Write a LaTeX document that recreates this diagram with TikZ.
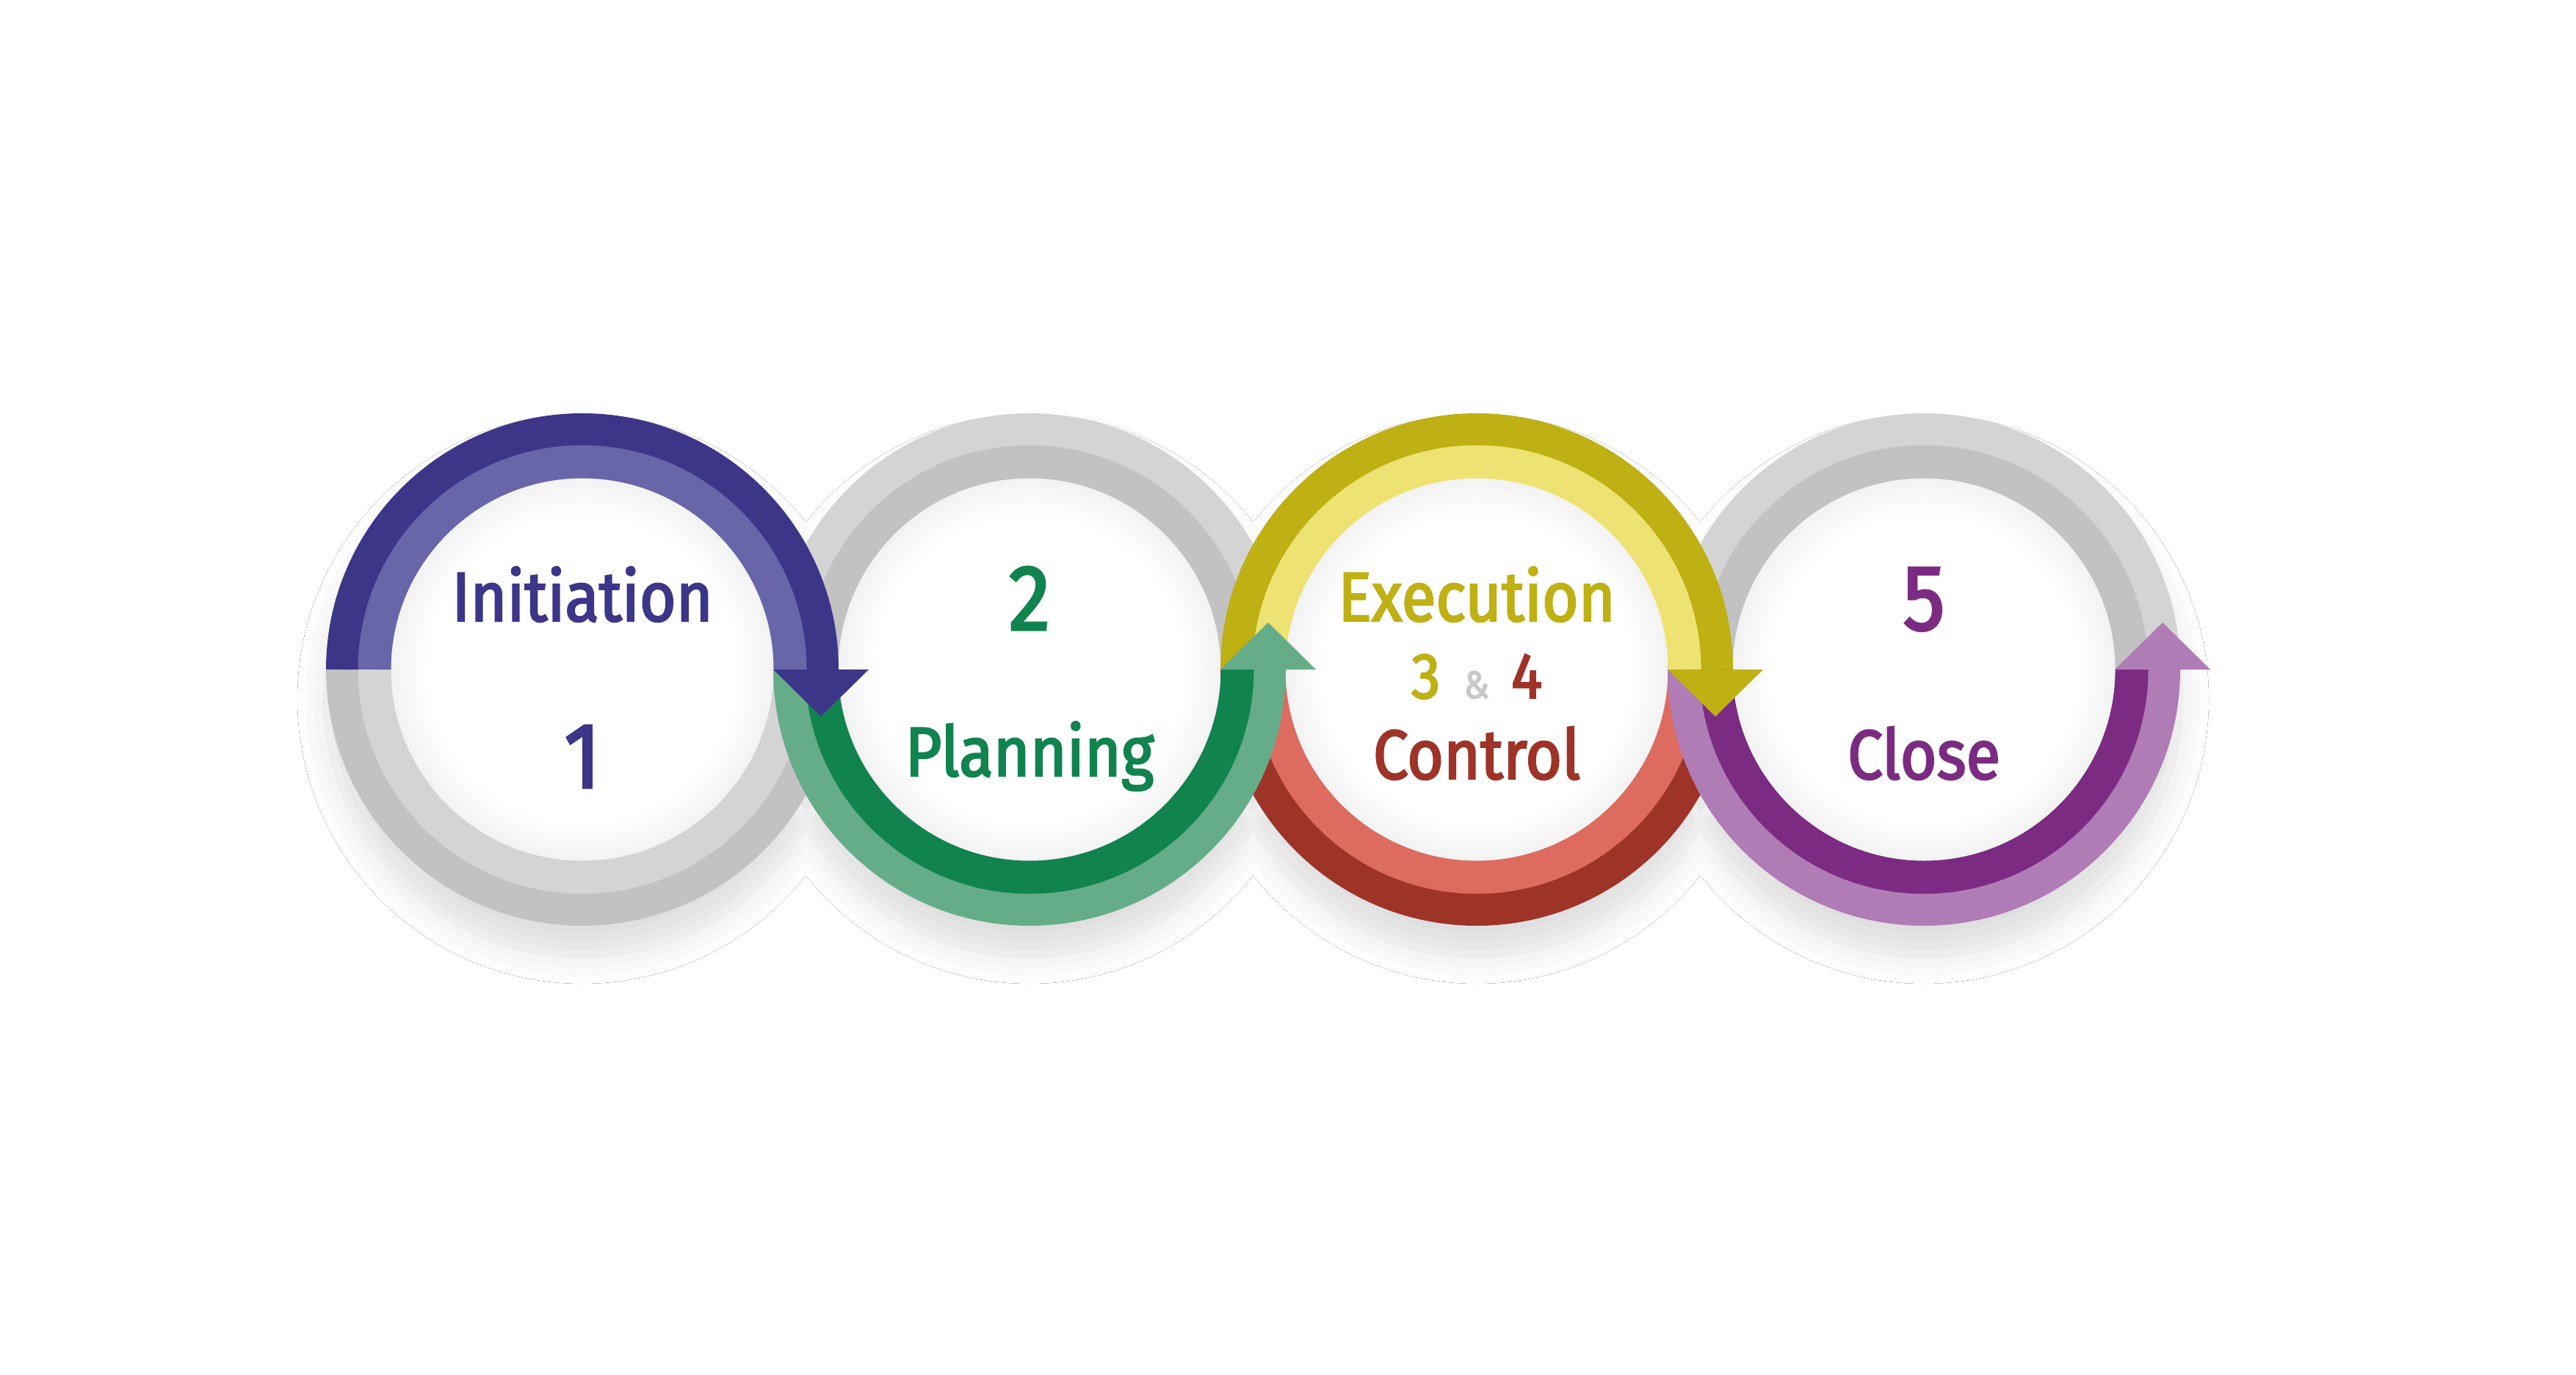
\documentclass[tikz,border=0pt]{standalone}
\usepackage{fontspec}
\usepackage{xcolor}
\usetikzlibrary{calc, shadows.blur}
\newfontfamily\lblfont{Fira Sans}[FakeStretch=0.9, FakeBold=2.6]

\definecolor{purpleD}{HTML}{3D3588}
\definecolor{purpleL}{HTML}{6965A9}
\definecolor{greenD}{HTML}{10834E}
\definecolor{greenL}{HTML}{64AD88}
\definecolor{yellowD}{HTML}{BFB013}
\definecolor{yellowL}{HTML}{EEE272}
\definecolor{redD}{HTML}{9E3328}
\definecolor{redL}{HTML}{DE6B60}
\definecolor{violetD}{HTML}{7B2C82}
\definecolor{violetL}{HTML}{B07CB5}
\definecolor{greyL}{HTML}{D4D4D4}
\definecolor{greyD}{HTML}{C2C2C2}
\definecolor{ampgrey}{HTML}{C8C8C8}

% soft inner edge of the white discs
\pgfdeclareradialshading{discshade}{\pgfpoint{0bp}{0bp}}{color(0bp)=(white); color(20bp)=(white); color(25bp)=(black!5); color(50bp)=(black!5)}

% half ring: centre, start angle, outer colour, inner colour
\newcommand{\halfring}[4]{%
  \draw[ring, #3] ([shift={(#2:3.265)}]#1) arc[start angle=#2, delta angle=180, radius=3.265];
  \draw[ring, #4] ([shift={(#2:2.83)}]#1) arc[start angle=#2, delta angle=180, radius=2.83];
}
% arrow tip on the right side: centre, colour, +1 up / -1 down
\newcommand{\ringtip}[3]{%
  \fill[#2] ([xshift=2.60cm]#1) -- ([xshift=3.90cm]#1) -- ([xshift=3.25cm, yshift=#3*0.64cm]#1) -- cycle;
}

\begin{document}
\begin{tikzpicture}[
    ring/.style={line width=0.45cm},
    word/.style={anchor=base, font=\lblfont\fontsize{27}{30}\selectfont},
    digit/.style={anchor=base, font=\lblfont\fontsize{36}{40}\selectfont}]
  \useasboundingbox (0,0) rectangle (35.08,18.72);
  \fill[white] (0,0) rectangle (35.08,18.72);

  \coordinate (c1) at (7.93,9.60);
  \coordinate (c2) at (14.02,9.60);
  \coordinate (c3) at (20.11,9.60);
  \coordinate (c4) at (26.20,9.60);

  % shadows and discs
  \fill[white, blur shadow={shadow xshift=0cm, shadow yshift=-0.4cm, shadow blur radius=0.4cm, shadow opacity=13}]
    (c1) circle (3.48) (c2) circle (3.48) (c3) circle (3.48) (c4) circle (3.48);
  \foreach \c in {c1,c2,c3,c4}
    \shade[shading=discshade] (\c) circle (2.62);

  % back halves
  \halfring{c2}{0}{greyL}{greyD}
  \halfring{c4}{0}{greyL}{greyD}
  \halfring{c1}{180}{greyD}{greyL}
  \halfring{c3}{180}{redD}{redL}
  % front halves
  \halfring{c1}{0}{purpleD}{purpleL}
  \halfring{c3}{0}{yellowD}{yellowL}
  \halfring{c2}{180}{greenL}{greenD}
  \halfring{c4}{180}{violetL}{violetD}

  % arrow tips
  \ringtip{c1}{purpleD}{-1}
  \ringtip{c2}{greenL}{1}
  \ringtip{c3}{yellowD}{-1}
  \ringtip{c4}{violetL}{1}

  % labels
  \node[word, text=purpleD] (init) at ([yshift=0.66cm]c1) {Initiation};
  \node[digit, text=purpleD] (one) at ([yshift=-1.61cm]c1) {1};
  \node[digit, text=greenD] (two) at ([yshift=0.54cm]c2) {2};
  \node[word, text=greenD] (plan) at ([yshift=-1.45cm]c2) {Planning};
  \node[word, text=yellowD] (exec) at ([yshift=0.66cm]c3) {Execution};
  \node[anchor=base, font=\lblfont\fontsize{25}{28}\selectfont] (nums) at ([yshift=-0.39cm]c3)
    {\textcolor{yellowD}{3}\hspace{0.32cm}{\fontsize{15}{17}\selectfont\textcolor{ampgrey}{\&}}\hspace{0.3cm}\textcolor{redD}{4}};
  \node[word, text=redD] (ctrl) at ([yshift=-1.49cm]c3) {Control};
  \node[digit, text=violetD] (five) at ([yshift=0.54cm]c4) {5};
  \node[word, text=violetD] (close) at ([yshift=-1.49cm]c4) {Close};
\end{tikzpicture}
\end{document}
